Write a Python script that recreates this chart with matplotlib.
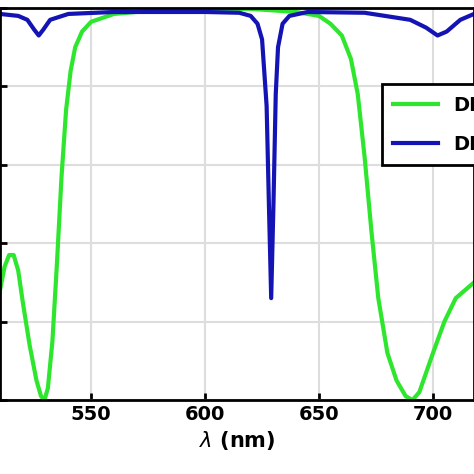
import numpy as np
import matplotlib.pyplot as plt

# reflectance spectra
wl_green = [510, 512, 514, 516, 518, 520, 523, 526, 528, 529.5, 531, 533, 535, 537, 539, 541,
            543, 546, 550, 560, 580, 600, 620, 640, 650, 655, 660, 664, 667, 670, 673, 676,
            680, 684, 688, 691, 694, 697, 700, 705, 710, 718]
r_green = [0.28, 0.34, 0.37, 0.37, 0.33, 0.25, 0.14, 0.05, 0.01, 0.0, 0.03, 0.15, 0.35, 0.57,
           0.74, 0.84, 0.90, 0.94, 0.965, 0.985, 0.995, 0.998, 0.998, 0.99, 0.98, 0.96, 0.93,
           0.87, 0.78, 0.62, 0.43, 0.26, 0.12, 0.05, 0.01, 0.0, 0.02, 0.07, 0.12, 0.20, 0.26, 0.30]

wl_blue = [510, 518, 522, 525, 527, 529, 532, 540, 560, 600, 615, 620, 623, 625, 627, 628, 629,
           630, 631, 632, 634, 637, 645, 670, 690, 697, 702, 706, 712, 718]
r_blue = [0.985, 0.98, 0.97, 0.945, 0.93, 0.945, 0.97, 0.985, 0.99, 0.99, 0.988, 0.98, 0.96,
          0.92, 0.75, 0.5, 0.26, 0.5, 0.78, 0.9, 0.96, 0.98, 0.99, 0.988, 0.97, 0.95, 0.93,
          0.94, 0.97, 0.985]

xticks = [550, 600, 650, 700]

fig = plt.figure(figsize=(4.74, 4.74), dpi=100)
ax = fig.add_axes([0.0, 0.156, 1.0, 0.827])
ax.plot(wl_green, r_green, color="#2ee62e", lw=3, label="DBR1")
ax.plot(wl_blue, r_blue, color="#1414b4", lw=3, label="DBR2")
ax.set_xlim(510, 718)
ax.set_ylim(0, 1)
ax.set_xticks(xticks)
ax.set_yticks(np.arange(0, 1.01, 0.2))
ax.set_yticklabels([])
ax.grid(True, color="#dddddd", lw=1.5)
ax.tick_params(direction="in", width=2, length=5)
for s in ax.spines.values():
    s.set_linewidth(2)
for lbl in ax.get_xticklabels():
    lbl.set_fontsize(14)
    lbl.set_fontweight("bold")
ax.set_xlabel(r"$\lambda$ (nm)", fontsize=15, fontweight="bold")
leg = ax.legend(loc="upper left", bbox_to_anchor=(0.805, 0.805), fontsize=14,
                fancybox=False, framealpha=1, edgecolor="black", handlelength=2.3,
                labelspacing=1.0, borderpad=0.6, borderaxespad=0)
leg.get_frame().set_linewidth(2)
for t in leg.get_texts():
    t.set_fontweight("bold")

plt.savefig("out.png", dpi=100)
plt.close()
